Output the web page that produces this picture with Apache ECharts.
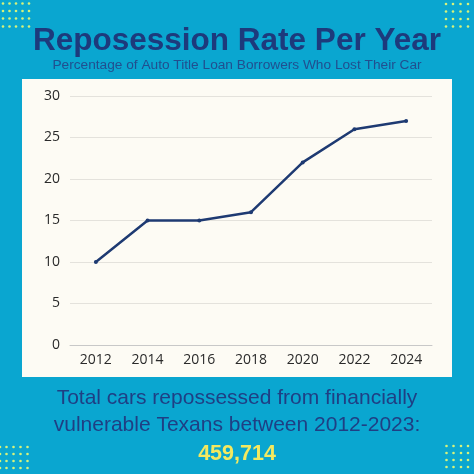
<!DOCTYPE html>
<html>
<head>
<meta charset="utf-8">
<script src="https://cdn.jsdelivr.net/npm/echarts@6/dist/echarts.min.js"></script>
<style>
  html, body { margin: 0; padding: 0; background: #0aa6d0; }
  #chart { width: 474px; height: 474px; }
</style>
</head>
<body>
<div id="chart"></div>
<script>
var years = ['2012', '2014', '2016', '2018', '2020', '2022', '2024'];
var rates = [10, 15, 15, 16, 22, 26, 27];
var yTicks = [0, 5, 10, 15, 20, 25, 30];

var myChart = echarts.init(document.getElementById('chart'));

// decorative dot grids in the corners
function dots(xs, ys) {
    var out = [];
    xs.forEach(function (x) {
        ys.forEach(function (y) {
            out.push({
                type: 'circle',
                shape: { cx: x, cy: y, r: 1.3 },
                style: { fill: '#d6f27c' },
                silent: true
            });
        });
    });
    return out;
}

var deco = [].concat(
    dots([3, 9.5, 16, 22.5, 29], [3.5, 11, 18.5, 26.5]),
    dots([446, 453, 460.5, 468], [4, 11.5, 19, 26.5]),
    dots([0, 6.5, 13.5, 20.5, 27.5], [447, 454, 461, 468]),
    dots([446.5, 453.5, 461, 468], [446, 453, 460, 467])
);

var panel = {
    type: 'rect',
    shape: { x: 22, y: 79, width: 430, height: 298 },
    style: { fill: '#fdfbf4' },
    z: -10,
    silent: true
};

var bodyText = {
    fontFamily: 'Liberation Sans',
    fontWeight: 'normal',
    fontSize: 21,
    color: '#1f3f84'
};

option = {
    backgroundColor: '#0aa6d0',
    animation: false,
    title: [
        {
            text: 'Reposession Rate Per Year',
            left: 'center',
            top: 20,
            textStyle: {
                fontFamily: 'Liberation Sans',
                fontWeight: 'bold',
                fontSize: 31.5,
                color: '#1d3a7c'
            }
        },
        {
            text: 'Percentage of Auto Title Loan Borrowers Who Lost Their Car',
            left: 'center',
            top: 53,
            textStyle: {
                fontFamily: 'Liberation Sans',
                fontWeight: 'normal',
                fontSize: 13.7,
                color: '#214f8f'
            }
        },
        {
            text: 'Total cars repossessed from financially',
            left: 'center',
            top: 383,
            textStyle: bodyText
        },
        {
            text: 'vulnerable Texans between 2012-2023:',
            left: 'center',
            top: 410,
            textStyle: bodyText
        },
        {
            text: '459,714',
            left: 'center',
            top: 438,
            textStyle: {
                fontFamily: 'Liberation Sans',
                fontWeight: 'bold',
                fontSize: 21.5,
                color: '#f4e95f'
            }
        }
    ],
    graphic: [panel].concat(deco),
    grid: {
        left: 70,
        right: 42,
        top: 96,
        bottom: 129
    },
    xAxis: {
        type: 'category',
        data: years,
        boundaryGap: true,
        axisLine: { lineStyle: { color: '#c8c8c8', width: 1 } },
        axisTick: { show: false },
        axisLabel: {
            fontFamily: 'Open Sans',
            fontSize: 14,
            color: '#2a2a2a',
            margin: 8
        }
    },
    yAxis: {
        type: 'value',
        min: 0,
        max: 30,
        interval: 5,
        axisLine: { show: false },
        axisTick: { show: false },
        splitLine: { lineStyle: { color: '#e4e2dc', width: 1 } },
        axisLabel: {
            fontFamily: 'Open Sans',
            fontSize: 14,
            color: '#2a2a2a',
            margin: 10,
            formatter: function (v) { return yTicks.indexOf(v) >= 0 ? String(v) : ''; }
        }
    },
    series: [
        {
            type: 'line',
            data: rates,
            symbol: 'circle',
            symbolSize: 4,
            showSymbol: true,
            lineStyle: { color: '#1e3a72', width: 2.5 },
            itemStyle: { color: '#1e3a72' }
        }
    ]
};

myChart.setOption(option);
</script>
</body>
</html>
